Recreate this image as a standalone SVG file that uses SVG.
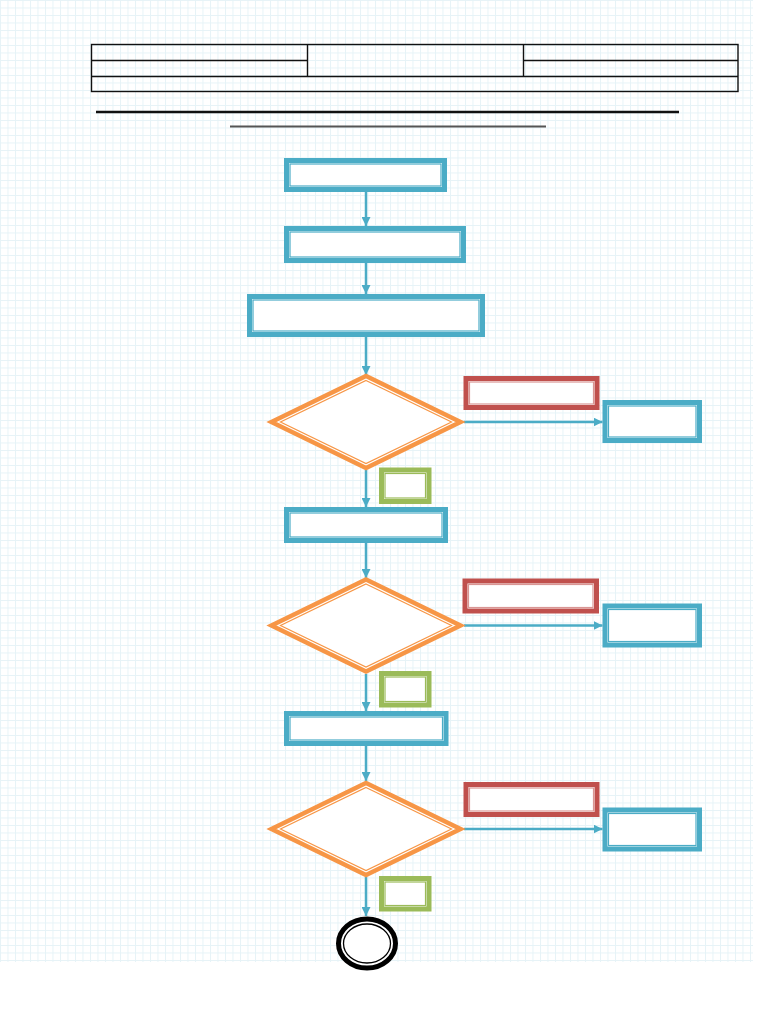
<svg xmlns="http://www.w3.org/2000/svg" width="768" height="1024" viewBox="0 0 768 1024">
<defs>
<pattern id="grid" width="7.5" height="7.5" patternUnits="userSpaceOnUse">
<path d="M0 0.5H7.5M0.5 0V7.5" fill="none" stroke="#e6f3f7" stroke-width="1"/>
</pattern>
<marker id="ah" viewBox="0 0 10 10" refX="10" refY="5" markerWidth="9" markerHeight="9" markerUnits="userSpaceOnUse" orient="auto">
<path d="M0 0L10 5L0 10Z" fill="#4bacc6"/>
</marker>
<style>
.o{fill:#fff;stroke-width:5;stroke-linejoin:miter}
.i{fill:none;stroke-width:1.2}
.b.o{stroke:#4bacc6}.b.i{stroke:#4bacc6}
.r.o{stroke:#c0504d}.r.i{stroke:#d99694}
.g.o{stroke:#9bbb59}.g.i{stroke:#9bbb59}
.y.o{stroke:#f79646;stroke-width:4.5}.y.i{stroke:#f79646}
.tb{fill:none;stroke:#111;stroke-width:1.4}
.c{fill:none;stroke:#4bacc6;stroke-width:2.5;marker-end:url(#ah)}
</style>
</defs>
<rect x="0" y="0" width="768" height="1024" fill="#fff"/>
<rect x="0" y="0" width="753" height="962" fill="url(#grid)"/>
<g id="header">
<rect class="tb" x="91.5" y="44.5" width="646.5" height="47"/>
<path class="tb" d="M91.5 60.5H307.5M523.5 60.5H738M91.5 76.5H738M307.5 44.5V76.5M523.5 44.5V76.5"/>
<line x1="96" y1="112" x2="679" y2="112" stroke="#111" stroke-width="2.5"/>
<line x1="230" y1="126.5" x2="546" y2="126.5" stroke="#555" stroke-width="2"/>
</g>
<g id="connectors">
<line class="c" x1="366" y1="192" x2="366" y2="226"/>
<line class="c" x1="366" y1="263" x2="366" y2="294"/>
<line class="c" x1="366" y1="337" x2="366" y2="375"/>
<line class="c" x1="464" y1="422" x2="602.5" y2="422"/>
<line class="c" x1="366" y1="470" x2="366" y2="507"/>
<line class="c" x1="366" y1="543" x2="366" y2="578"/>
<line class="c" x1="464" y1="625.5" x2="602.5" y2="625.5"/>
<line class="c" x1="366" y1="674" x2="366" y2="711"/>
<line class="c" x1="366" y1="746" x2="366" y2="781"/>
<line class="c" x1="464" y1="829" x2="602.5" y2="829"/>
<line class="c" x1="366" y1="877" x2="366" y2="916"/>
</g>
<g id="box1"><rect class="o b" x="286.5" y="160.5" width="158" height="29"/><rect class="i b" x="290" y="164" width="151" height="22"/></g>
<g id="box2"><rect class="o b" x="286.5" y="228.5" width="177" height="32"/><rect class="i b" x="290" y="232" width="170" height="25"/></g>
<g id="box3"><rect class="o b" x="249.5" y="296.5" width="233" height="38"/><rect class="i b" x="253" y="300" width="226" height="31"/></g>
<g id="decision1"><polygon class="o y" points="366,376 460.5,422 366,468 271.5,422"/><polygon class="i y" points="366,380.5 451.5,422 366,463.5 280.5,422"/></g>
<g id="red1"><rect class="o r" x="466" y="378.5" width="131" height="29"/><rect class="i r" x="469.5" y="382" width="124" height="22"/></g>
<g id="blue1"><rect class="o b" x="605" y="402.5" width="94.5" height="38"/><rect class="i b" x="608.5" y="406" width="87.5" height="31"/></g>
<g id="green1"><rect class="o g" x="381.5" y="470" width="47.5" height="31.5"/><rect class="i g" x="385" y="473.5" width="40.5" height="24.5"/></g>
<g id="box4"><rect class="o b" x="286.5" y="509.5" width="159" height="31"/><rect class="i b" x="290" y="513" width="152" height="24"/></g>
<g id="decision2"><polygon class="o y" points="366,579.5 460.5,625.5 366,671.5 271.5,625.5"/><polygon class="i y" points="366,584 451.5,625.5 366,667 280.5,625.5"/></g>
<g id="red2"><rect class="o r" x="465" y="581" width="131.5" height="30"/><rect class="i r" x="468.5" y="584.5" width="124.5" height="23"/></g>
<g id="blue2"><rect class="o b" x="605" y="606" width="94.5" height="39"/><rect class="i b" x="608.5" y="609.5" width="87.5" height="32"/></g>
<g id="green2"><rect class="o g" x="381.5" y="673.5" width="47.5" height="31.5"/><rect class="i g" x="385" y="677" width="40.5" height="24.5"/></g>
<g id="box5"><rect class="o b" x="286.5" y="713.5" width="159.5" height="30"/><rect class="i b" x="290" y="717" width="152.5" height="23"/></g>
<g id="decision3"><polygon class="o y" points="366,783 460.5,829 366,875 271.5,829"/><polygon class="i y" points="366,787.5 451.5,829 366,870.5 280.5,829"/></g>
<g id="red3"><rect class="o r" x="466" y="784.5" width="131" height="30"/><rect class="i r" x="469.5" y="788" width="124" height="23"/></g>
<g id="blue3"><rect class="o b" x="605" y="810" width="94.5" height="39"/><rect class="i b" x="608.5" y="813.5" width="87.5" height="32"/></g>
<g id="green3"><rect class="o g" x="381.5" y="878.5" width="47.5" height="30.5"/><rect class="i g" x="385" y="882" width="40.5" height="23.5"/></g>
<g id="end"><ellipse cx="367" cy="943.5" rx="28.5" ry="24.5" fill="#fff" stroke="#000" stroke-width="5"/><ellipse cx="367" cy="943.5" rx="23.5" ry="19.5" fill="none" stroke="#000" stroke-width="1.3"/></g>
</svg>
